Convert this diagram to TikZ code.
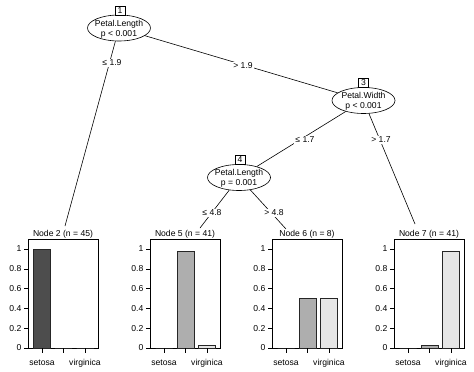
\documentclass[tikz,border=0pt]{standalone}
\usepackage{fontspec}
\setmainfont{Liberation Sans}
\usetikzlibrary{shapes.geometric}
\definecolor{cA}{HTML}{4D4D4D}
\definecolor{cB}{HTML}{AEAEAE}
\definecolor{cC}{HTML}{E6E6E6}
\tikzset{
  every node/.style={font=\fontsize{8.6}{10}\selectfont, inner sep=0pt},
  inner/.style={draw, ellipse, fill=white, line width=0.6pt, minimum width=63pt, minimum height=26pt},
  idbox/.style={draw, fill=white, line width=0.6pt, minimum width=10pt, minimum height=9pt},
  elab/.style={fill=white, inner sep=1pt},
  conn/.style={line width=0.6pt},
  frame/.style={draw, line width=0.6pt},
  barA/.style={draw=black!85, fill=cA, line width=0.6pt},
  barB/.style={draw=black!85, fill=cB, line width=0.6pt},
  barC/.style={draw=black!85, fill=cC, line width=0.6pt},
}
\newcommand{\termpanel}[6]{%
  \node (#1) at (#2+35,234) {#3};
  \draw[frame] (#2,239) rectangle (#2+70,348);
  \foreach \v in {0,0.2,0.4,0.6,0.8,1}{
    \draw[conn] (#2,348-99*\v) -- (#2-4,348-99*\v);
  }
  \foreach \v/\t in {0/0,0.2/0.2,0.4/0.4,0.6/0.6,0.8/0.8,1/1}{
    \node[anchor=east] at (#2-6.5,348-99*\v) {\t};
  }
  \draw[barA] (#2+5.5,348) rectangle (#2+22.5,348-99*#4);
  \draw[barB] (#2+27,348) rectangle (#2+44,348-99*#5);
  \draw[barC] (#2+48.5,348) rectangle (#2+65.5,348-99*#6);
  \foreach \c in {14,35.5,57}{
    \draw[conn] (#2+\c,348) -- (#2+\c,353);
  }
  \node at (#2+14,363) {setosa};
  \node at (#2+57,363) {virginica};
}
\begin{document}
\begin{tikzpicture}[x=1pt,y=-1pt]
\useasboundingbox (0,0) rectangle (474,372);
% inner nodes
\node[inner] (n1) at (119,28) {};
\node[inner] (n3) at (363.5,100.5) {};
\node[inner] (n4) at (239,177.5) {};
% terminal connection points
\coordinate (t2) at (65,226);
\coordinate (t5) at (200,228);
\coordinate (t6) at (286,229);
\coordinate (t7) at (415,224);
% connectors
\draw[conn] (n1) -- (t2);
\draw[conn] (n1) -- (n3);
\draw[conn] (n3) -- (n4);
\draw[conn] (n3) -- (t7);
\draw[conn] (n4) -- (t5);
\draw[conn] (n4) -- (t6);
% edge labels
\node[elab] (l12) at (112,63) {≤ 1.9};
\node[elab] (l13) at (243,66) {> 1.9};
\node[elab] (l34) at (305,140) {≤ 1.7};
\node[elab] (l37) at (381,140) {> 1.7};
\node[elab] (l45) at (212,213) {≤ 4.8};
\node[elab] (l46) at (274,213) {> 4.8};
% node texts
\node[align=center] (x1) at (119,29) {Petal.Length\\p < 0.001};
\node[align=center] (x3) at (363.5,101.5) {Petal.Width\\p < 0.001};
\node[align=center] (x4) at (239,178.5) {Petal.Length\\p = 0.001};
% id boxes
\node[idbox] (id1) at (120,10.5) {1};
\node[idbox] (id3) at (363.5,83) {3};
\node[idbox] (id4) at (240,160) {4};
% terminal panels
\termpanel{h2}{28}{Node 2 (n = 45)}{1}{0}{0}
\termpanel{h5}{150}{Node 5 (n = 41)}{0}{0.976}{0.024}
\termpanel{h6}{272}{Node 6 (n = 8)}{0}{0.5}{0.5}
\termpanel{h7}{394}{Node 7 (n = 41)}{0}{0.024}{0.976}
\end{tikzpicture}
\end{document}
